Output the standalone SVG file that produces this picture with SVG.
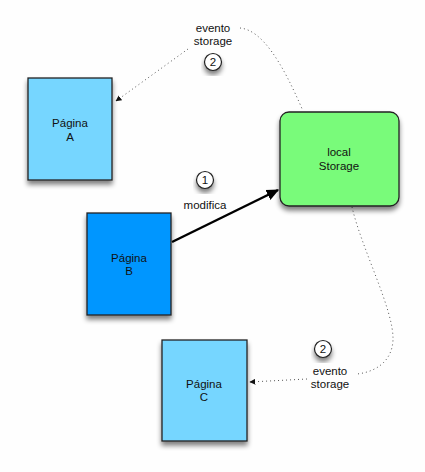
<svg xmlns="http://www.w3.org/2000/svg" width="425" height="472" viewBox="0 0 425 472">
<style>
.t{font-family:"Liberation Sans",Arial,sans-serif;font-size:11.5px;fill:#111;text-anchor:middle}
.box{stroke:#222;stroke-width:1.3}
.dot{fill:none;stroke:#555;stroke-width:1;stroke-dasharray:1 3}
.num{fill:#fff;stroke:#222;stroke-width:1.2}
</style>
<defs>
<filter id="sh" x="-20%" y="-20%" width="150%" height="150%">
<feGaussianBlur in="SourceAlpha" stdDeviation="2.5"/>
<feOffset dx="0" dy="4" result="b"/>
<feComponentTransfer><feFuncA type="linear" slope="0.5"/></feComponentTransfer>
<feMerge><feMergeNode/><feMergeNode in="SourceGraphic"/></feMerge>
</filter>
<marker id="ah" viewBox="0 0 10 10" refX="9" refY="5" markerWidth="6" markerHeight="6" orient="auto" markerUnits="userSpaceOnUse">
<path d="M0,0 L10,5 L0,10 z" fill="#111"/>
</marker>
<marker id="big" viewBox="0 0 10 10" refX="9" refY="5" markerWidth="5" markerHeight="5" orient="auto">
<path d="M0,0.5 L10,5 L0,9.5 z" fill="#000"/>
</marker>
</defs>
<rect width="425" height="472" fill="#fefefe"/>
<g id="connectors">
<path class="dot" d="M188,49 L116,101" marker-end="url(#ah)"/>
<path class="dot" d="M240,28 C262,30 282,62 303,111"/>
<path class="dot" d="M352,207 C362,250 394,310 393,340 C392,362 375,372 357,374"/>
<path class="dot" d="M307,379 L250,382" marker-end="url(#ah)"/>
<path d="M172,242 L278,190" stroke="#000" stroke-width="2.5" fill="none" marker-end="url(#big)"/>
</g>
<g id="pageA">
<rect class="box" x="28" y="78" width="84" height="102" fill="#76d6ff" filter="url(#sh)"/>
<text class="t" x="70" y="127">Página</text>
<text class="t" x="70" y="141">A</text>
</g>
<g id="pageB">
<rect class="box" x="87" y="213" width="84" height="102" fill="#0096ff" filter="url(#sh)"/>
<text class="t" x="129" y="262">Página</text>
<text class="t" x="129" y="275">B</text>
</g>
<g id="pageC">
<rect class="box" x="162" y="340" width="85" height="101" fill="#76d6ff" filter="url(#sh)"/>
<text class="t" x="204" y="388">Página</text>
<text class="t" x="204" y="401">C</text>
</g>
<g id="localStorage">
<rect class="box" x="280" y="112" width="119" height="94" rx="9" ry="9" fill="#79fb7a" filter="url(#sh)"/>
<text class="t" x="339" y="156">local</text>
<text class="t" x="339" y="170">Storage</text>
</g>
<g id="label1">
<circle class="num" cx="205" cy="180" r="8.5" filter="url(#sh)"/>
<text class="t" x="205" y="184">1</text>
<text class="t" x="205" y="209">modifica</text>
</g>
<g id="label2top">
<text class="t" x="213" y="32">evento</text>
<text class="t" x="213" y="45">storage</text>
<circle class="num" cx="213" cy="62" r="8.5" filter="url(#sh)"/>
<text class="t" x="213" y="66">2</text>
</g>
<g id="label2bottom">
<circle class="num" cx="323" cy="349" r="8.5" filter="url(#sh)"/>
<text class="t" x="323" y="353">2</text>
<text class="t" x="330" y="375">evento</text>
<text class="t" x="330" y="388">storage</text>
</g>
</svg>
